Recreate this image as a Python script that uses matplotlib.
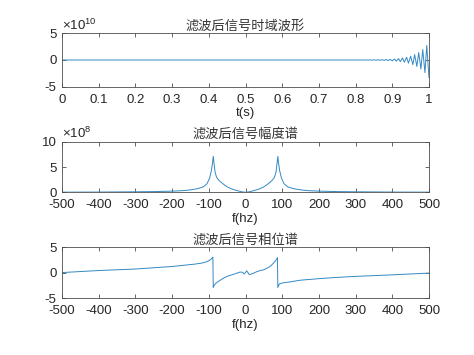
import numpy as np
import matplotlib.pyplot as plt

plt.rcParams['font.family'] = ['Liberation Sans', 'Noto Sans CJK SC', 'DejaVu Sans']
plt.rcParams['axes.unicode_minus'] = False
plt.rcParams['mathtext.fontset'] = 'custom'
plt.rcParams['mathtext.rm'] = 'Liberation Sans'
plt.rcParams['mathtext.it'] = 'Liberation Sans'

# 时域波形 (t in s, 值 in 1e10)
t_pts = [0.0, 0.800, 0.806, 0.811, 0.817, 0.822, 0.828, 0.833, 0.839, 0.844, 0.850,
         0.856, 0.861, 0.867, 0.872, 0.878, 0.883, 0.889, 0.894, 0.900, 0.906,
         0.911, 0.917, 0.922, 0.928, 0.933, 0.939, 0.944, 0.950, 0.956, 0.961,
         0.967, 0.972, 0.978, 0.983, 0.989, 0.994, 1.000]
y_pts = [0.0, 0.0, 0.009, -0.011, 0.013, -0.015, 0.018, -0.021, 0.025, -0.029, 0.035,
         -0.042, 0.049, -0.059, 0.068, -0.081, 0.095, -0.115, 0.133, -0.16, 0.19,
         -0.22, 0.27, -0.31, 0.37, -0.43, 0.52, -0.60, 0.72, -0.87, 1.01,
         -1.21, 1.41, -1.69, 1.97, -2.37, 2.75, -3.3]

# 幅度谱 (f in Hz, 值 in 1e8)
f_mag = [-500, -400, -300, -250, -200, -170, -150, -130, -115, -105, -98, -93, -90, -88,
         -86, -83, -79, -74, -70, -65, -58, -50, -40, -30, -20, -10, 0,
         10, 20, 30, 40, 50, 58, 65, 70, 74, 79, 83, 86, 88,
         90, 93, 98, 105, 115, 130, 150, 170, 200, 250, 300, 400, 500]
mag = [0.05, 0.07, 0.12, 0.16, 0.25, 0.35, 0.5, 0.75, 1.1, 1.7, 2.8, 4.3, 5.8, 7.1,
       5.8, 4.0, 3.0, 2.5, 2.2, 1.9, 1.5, 1.1, 0.75, 0.5, 0.3, 0.12, 0.02,
       0.12, 0.3, 0.5, 0.75, 1.1, 1.5, 1.9, 2.2, 2.5, 3.0, 4.0, 5.8, 7.1,
       5.8, 4.3, 2.8, 1.7, 1.1, 0.75, 0.5, 0.35, 0.25, 0.16, 0.12, 0.07, 0.05]

# 相位谱 (rad)
f_ph = [-500, -400, -300, -200, -140, -120, -105, -95, -89, -88, -85, -80, -70, -60,
        -50, -40, -33, -25, -15, -8, -4, 0, 3, 7, 10, 15, 21, 30, 40, 50, 58, 68,
        76, 82, 87, 88, 92, 100, 120, 150, 200, 250, 300, 400, 500]
ph = [0.05, 0.45, 0.75, 1.25, 1.7, 1.9, 2.2, 2.6, 3.1, -2.9, -2.4, -2.0, -1.5, -1.05,
      -0.7, -0.45, -0.3, -0.1, 0.15, 0.1, -0.25, 0.05, 0.4, 0.0, -0.35, -0.25, -0.1, 0.2, 0.45, 0.6, 0.9, 1.3,
      1.9, 2.4, 3.0, -2.9, -2.2, -2.0, -1.8, -1.45, -1.15, -0.9, -0.7, -0.4, -0.05]

fig = plt.figure(figsize=(4.74, 3.55), dpi=100)
lc = '#3389c4'
ec = '#4d4d4d'
tc = '#262626'
fs = 9.5
cjk = ['Noto Sans CJK SC', 'DejaVu Sans']


def style(ax):
    for s in ax.spines.values():
        s.set_color(ec)
        s.set_linewidth(0.6)
    ax.tick_params(direction='in', top=True, right=True, length=3, width=0.6,
                   colors=ec, labelsize=fs, labelcolor=tc)
    ax.tick_params(axis='x', pad=5)
    ax.tick_params(axis='y', pad=4)


ax1 = fig.add_axes([0.131, 0.756, 0.774, 0.150])
ax1.plot(t_pts, np.array(y_pts) * 1e10, color=lc, lw=0.7)
ax1.set_xlim(0, 1)
ax1.set_ylim(-5e10, 5e10)
ax1.set_xticks(np.arange(0, 1.01, 0.1))
ax1.set_xticklabels(['0', '0.1', '0.2', '0.3', '0.4', '0.5', '0.6', '0.7', '0.8', '0.9', '1'])
ax1.set_yticks([-5e10, 0, 5e10])
ax1.set_yticklabels(['-5', '0', '5'])
ax1.text(0.0, 1.01, r'$\times10^{10}$', transform=ax1.transAxes, fontsize=fs, color=tc, va='bottom')
ax1.set_xlabel('t(s)', fontsize=fs, labelpad=1, color=tc)
ax1.set_title('滤波后信号时域波形', family=cjk, fontsize=9.5, color='#333333', pad=3)
style(ax1)

ax2 = fig.add_axes([0.131, 0.458, 0.774, 0.143])
ax2.plot(f_mag, np.array(mag) * 1e8, color=lc, lw=0.7)
ax2.set_xlim(-500, 500)
ax2.set_ylim(0, 10e8)
ax2.set_xticks(range(-500, 501, 100))
ax2.set_xticklabels([str(v) for v in range(-500, 501, 100)])
ax2.set_yticks([0, 5e8, 10e8])
ax2.set_yticklabels(['0', '5', '10'])
ax2.text(0.0, 1.01, r'$\times10^{8}$', transform=ax2.transAxes, fontsize=fs, color=tc, va='bottom')
ax2.set_xlabel('f(hz)', fontsize=fs, labelpad=1, color=tc)
ax2.set_title('滤波后信号幅度谱', family=cjk, fontsize=9.5, color='#333333', pad=3)
style(ax2)

ax3 = fig.add_axes([0.131, 0.160, 0.774, 0.143])
ax3.plot(f_ph, ph, color=lc, lw=0.7)
ax3.set_xlim(-500, 500)
ax3.set_ylim(-5, 5)
ax3.set_xticks(range(-500, 501, 100))
ax3.set_xticklabels([str(v) for v in range(-500, 501, 100)])
ax3.set_yticks([-5, 0, 5])
ax3.set_yticklabels(['-5', '0', '5'])
ax3.set_xlabel('f(hz)', fontsize=fs, labelpad=1, color=tc)
ax3.set_title('滤波后信号相位谱', family=cjk, fontsize=9.5, color='#333333', pad=3)
style(ax3)

fig.savefig('out.png', dpi=100)
